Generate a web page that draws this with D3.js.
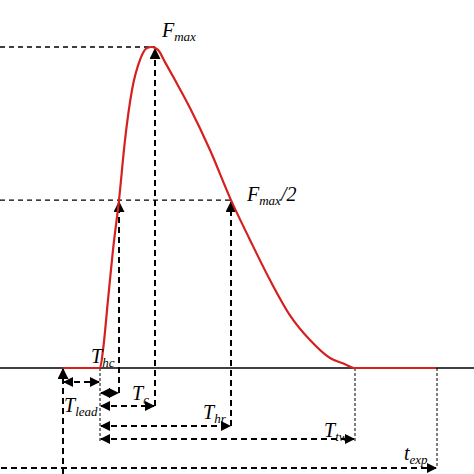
<!DOCTYPE html>
<html><head><meta charset="utf-8">
<script src="https://cdn.jsdelivr.net/npm/d3@7"></script>
<style>body{margin:0;background:#fff}</style>
</head><body><div id="chart"></div>
<script>
// hydrograph shape (time units, force relative to Fmax)
const times = [6.3, 10.0, 10.3, 10.8, 11.3, 11.9, 12.5, 13.2, 14.0, 14.7, 15.2, 15.8, 16.5, 17.5, 19.0, 21.0, 23.1, 25.0, 27.0, 29.0, 31.0, 33.0, 34.5, 35.4, 43.6];
const forces = [0, 0, 0.056, 0.212, 0.368, 0.523, 0.71, 0.866, 0.96, 0.997, 1.0, 0.991, 0.953, 0.897, 0.81, 0.679, 0.523, 0.399, 0.274, 0.164, 0.087, 0.031, 0.012, 0, 0];
const tLead = 6.3, tStart = 10.0, tHc = 11.9, tC = 15.5, tHr = 23.1, tTw = 35.5, tExp = 43.7;

const W = 474, H = 474;
const svg = d3.select('#chart').append('svg').attr('width', W).attr('height', H);
const x = d3.scaleLinear().domain([0, 47.4]).range([0, W]);
const y = d3.scaleLinear().domain([0, 1]).range([368, 47]);

const defs = svg.append('defs');
defs.append('marker').attr('id', 'ah').attr('viewBox', '0 0 10 10').attr('refX', 9).attr('refY', 5)
    .attr('markerWidth', 5).attr('markerHeight', 5).attr('orient', 'auto-start-reverse')
    .append('path').attr('d', 'M0,0L10,5L0,10z').attr('fill', '#000');
defs.append('marker').attr('id', 'big').attr('viewBox', '0 0 10 10').attr('refX', 9).attr('refY', 5)
    .attr('markerWidth', 5.5).attr('markerHeight', 5.5).attr('orient', 'auto')
    .append('path').attr('d', 'M0,0L10,5L0,10z').attr('fill', '#000');

const dash = (x1, y1, x2, y2, w, da) => svg.append('line')
    .attr('x1', x1).attr('y1', y1).attr('x2', x2).attr('y2', y2)
    .attr('stroke', '#000').attr('stroke-width', w).attr('stroke-dasharray', da);

// baseline
svg.append('line').attr('x1', 0).attr('x2', W).attr('y1', y(0)).attr('y2', y(0))
    .attr('stroke', '#000').attr('stroke-width', 1.6);

// guides to Fmax and Fmax/2
dash(0, y(1), x(tC), y(1), 1.3, '5,4');
dash(0, y(0.523), x(tHr), y(0.523), 1.3, '5,4');

// vertical arrows up to the curve
dash(x(tHc), 393, x(tHc), y(0.523) + 2, 2, '6,4').attr('marker-end', 'url(#big)');
dash(x(tC), 406, x(tC), y(1) + 2, 2, '6,4').attr('marker-end', 'url(#big)');
dash(x(tHr), 426, x(tHr), y(0.523) + 2, 2, '6,4').attr('marker-end', 'url(#big)');
dash(x(tLead), 474, x(tLead), y(0) + 1, 2, '6,4').attr('marker-end', 'url(#big)');
dash(x(tStart), y(0), x(tStart), 441, 1, '3,2');
dash(x(tTw), y(0), x(tTw), 441, 1, '3,2');
dash(x(tExp), y(0), x(tExp), 468, 1, '3,2');

// duration arrows
const spans = [[tLead, tStart, 382, true], [tStart, tHc, 393, true], [tStart, tC, 406, true],
    [tStart, tHr, 426, true], [tStart, tTw, 439, true], [0, tExp, 468, false]];
spans.forEach(([a, b, yy, both]) => {
    const l = dash(x(a) + 1, yy, x(b) - 1, yy, 2, '6,4').attr('marker-end', 'url(#ah)');
    if (both) l.attr('marker-start', 'url(#ah)');
});

// curve
const pts = times.map((t, i) => [t, forces[i]]);
svg.append('path').datum(pts)
    .attr('d', d3.line().x(d => x(d[0])).y(d => y(d[1])).curve(d3.curveMonotoneX))
    .attr('fill', 'none').attr('stroke', '#d61f1f').attr('stroke-width', 2.2);

// labels
const lab = (px, py, main, sub) => {
    const t = svg.append('text').attr('x', px).attr('y', py)
        .attr('font-family', 'Liberation Serif, serif').attr('font-style', 'italic').attr('font-size', 20);
    t.append('tspan').text(main);
    t.append('tspan').text(sub[0]).attr('font-size', 13).attr('dy', 4);
    if (sub[1]) t.append('tspan').text(sub[1]).attr('dy', -4).attr('font-size', 20);
};
lab(162, 37, 'F', ['max']);
lab(247, 201, 'F', ['max', '/2']);
lab(91, 363, 'T', ['hc']);
lab(132, 400, 'T', ['c']);
lab(64, 412, 'T', ['lead']);
lab(203, 419, 'T', ['hr']);
lab(324, 437, 'T', ['tw']);
lab(404, 460, 't', ['exp']);
</script>
</body></html>
